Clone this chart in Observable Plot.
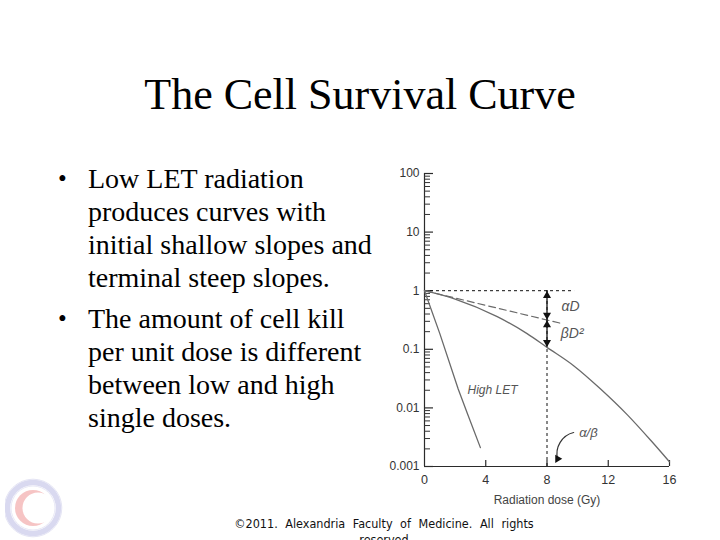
<!DOCTYPE html>
<html>
<head>
<meta charset="utf-8">
<script src="https://cdn.jsdelivr.net/npm/d3@7"></script>
<script src="https://cdn.jsdelivr.net/npm/@observablehq/plot@0.6"></script>
<style>
  html, body { margin: 0; padding: 0; background: #fff; }
  body { width: 720px; height: 540px; overflow: hidden; position: relative; }
  #title {
    position: absolute; left: 0; top: 73px; width: 720px; text-align: center;
    font-family: "Liberation Serif", "Times New Roman", serif; font-size: 44px; line-height: 1; color: #000;
  }
  .bullet {
    position: absolute; left: 58px; white-space: nowrap;
    font-family: "Liberation Serif", "Times New Roman", serif; font-size: 28px; line-height: 33px; color: #000;
  }
  .bullet .dot { position: absolute; left: 0; top: 0; font-size: 25px; }
  .bullet .lines { margin-left: 30px; }
  #chart { position: absolute; left: 380px; top: 160px; }
  #footer {
    position: absolute; left: 184px; width: 400px; top: 516px; text-align: center;
    font-family: "Liberation Sans Narrow", "DejaVu Sans Condensed", "Liberation Sans", sans-serif;
    font-size: 12.5px; line-height: 16px; word-spacing: 4px; letter-spacing: 0px; color: #111;
  }
  #logo { position: absolute; left: 5px; top: 478px; }
</style>
</head>
<body>
<div id="title">The Cell Survival Curve</div>

<div class="bullet" style="top:162px">
  <span class="dot">•</span>
  <div class="lines">Low LET radiation<br>produces curves with<br>initial shallow slopes and<br>terminal steep slopes.</div>
</div>
<div class="bullet" style="top:302px">
  <span class="dot">•</span>
  <div class="lines">The amount of cell kill<br>per unit dose is different<br>between low and high<br>single doses.</div>
</div>

<svg id="logo" width="58" height="62" viewBox="0 0 58 62">
  <circle cx="28" cy="30" r="25.5" fill="none" stroke="#d9d9f0" stroke-width="5.5"/>
  <circle cx="28" cy="30" r="28.8" fill="none" stroke="#e4e4f4" stroke-width="1"/>
  <circle cx="28" cy="30" r="22" fill="none" stroke="#e8e8f6" stroke-width="1"/>
  <circle cx="28" cy="30" r="18" fill="#f6c4c4"/>
  <circle cx="33" cy="30" r="15.5" fill="#fff"/>
</svg>

<div id="chart"></div>

<div id="footer">©2011. Alexandria Faculty of Medicine. All rights<br>reserved</div>

<script>
// Axis structure
const yTickValues = [0.001, 0.01, 0.1, 1, 10, 100];
const yTickLabels = ["0.001", "0.01", "0.1", "1", "10", "100"];
const xTickValues = [0, 4, 8, 12, 16];
const minorMultipliers = [2, 3, 4, 5, 6, 7, 8, 9];

// Low LET (linear-quadratic) survival curve: dose (Gy) and surviving fraction
const lowLetDose     = [0, 2, 4.75, 6.7, 8, 9.76, 11.5, 13.25, 14.77, 16];
const lowLetSurvival = [1, 0.72, 0.36, 0.185, 0.108, 0.052, 0.021, 0.0076, 0.0028, 0.0012];

// High LET survival curve
const highLetDose     = [0, 1, 2.2, 2.8, 3.65];
const highLetSurvival = [1, 0.185, 0.021, 0.008, 0.0021];

// Single-hit (alpha D) component, dashed
const alphaDose     = [0, 9];
const alphaSurvival = [1, 0.274];

// Reference dose where alpha D = beta D^2, and the survival values there
const markerDose = 8;
const alphaAtMarker = 0.316;
const survivalAtMarker = 0.108;
const unitLineEnd = 9.8;

// Annotations
const annotations = [
  {label: "αD",       x: 8.95, y: 0.53,   size: 14},
  {label: "βD²",      x: 8.9,  y: 0.185,  size: 14},
  {label: "High LET", x: 2.81, y: 0.0197, size: 12},
  {label: "α/β",      x: 10.1, y: 0.0038, size: 13}
];
const ratioArrow = {x1: 9.74, y1: 0.0038, x2: 8.69, y2: 0.00135};

const toRows = (xs, ys) => xs.map((x, i) => ({x, y: ys[i]}));
const lowLet = toRows(lowLetDose, lowLetSurvival);
const highLet = toRows(highLetDose, highLetSurvival);
const alphaLine = toRows(alphaDose, alphaSurvival);
const minorTicks = yTickValues.slice(0, -1).flatMap(d => minorMultipliers.map(m => m * d));

const W = 320, H = 350, mL = 44, mR = 31, mT = 13, mB = 44;
const frameW = W - mL - mR, frameH = H - mT - mB;
const ink = "#2b2b2b";
const curve = "#6a6a6a";

const plot = Plot.plot({
  width: W, height: H,
  marginLeft: mL, marginRight: mR, marginTop: mT, marginBottom: mB,
  x: {domain: [0, 16], axis: null},
  y: {type: "log", domain: [0.001, 100], axis: null},
  style: {fontFamily: "'Liberation Sans', Arial, sans-serif", fontSize: "12px", background: "transparent", overflow: "visible"},
  marks: [
    // axis lines
    Plot.ruleX([0], {y1: 0.001, y2: 100, stroke: ink, strokeWidth: 1.2}),
    Plot.ruleY([0.001], {x1: 0, x2: 16, stroke: ink, strokeWidth: 1.2}),
    // inward ticks
    Plot.tickY(yTickValues, {y: d => d, insetRight: frameW - 9, stroke: ink, strokeWidth: 1.2}),
    Plot.tickY(minorTicks, {y: d => d, insetRight: frameW - 6, stroke: "#333", strokeWidth: 1}),
    Plot.tickX(xTickValues.slice(1), {x: d => d, insetTop: frameH - 6, stroke: ink, strokeWidth: 1.2}),
    // tick labels
    Plot.text(yTickValues, {y: d => d, text: (d, i) => yTickLabels[i], frameAnchor: "left", dx: -5, textAnchor: "end", fill: "#333", fontSize: 12}),
    Plot.text(xTickValues, {x: d => d, text: d => String(d), frameAnchor: "bottom", dy: 17, fill: "#333", fontSize: 12.5}),
    Plot.text(["Radiation dose (Gy)"], {frameAnchor: "bottom", dy: 37, fill: "#444", fontSize: 12}),
    // reference dashed lines
    Plot.ruleY([1], {x1: 0, x2: unitLineEnd, stroke: "#111", strokeDasharray: "3,3", strokeWidth: 1}),
    Plot.ruleX([markerDose], {y1: 0.001, y2: 1, stroke: "#111", strokeDasharray: "3,3", strokeWidth: 1}),
    Plot.line(alphaLine, {x: "x", y: "y", stroke: curve, strokeDasharray: "7,4", strokeWidth: 1.2}),
    // survival curves
    Plot.line(lowLet, {x: "x", y: "y", curve: "monotone-x", stroke: curve, strokeWidth: 1.3}),
    Plot.line(highLet, {x: "x", y: "y", stroke: curve, strokeWidth: 1.3}),
    // alpha D and beta D^2 double arrows
    Plot.ruleX([markerDose], {y1: 1, y2: alphaAtMarker, stroke: "#111", strokeWidth: 1.3}),
    Plot.ruleX([markerDose], {y1: alphaAtMarker, y2: survivalAtMarker, stroke: "#111", strokeWidth: 1.3}),
    Plot.dot([1, alphaAtMarker], {x: markerDose, y: d => d, symbol: "triangle", r: 3, fill: "#111", stroke: "none", dy: 5}),
    Plot.dot([alphaAtMarker, survivalAtMarker], {x: markerDose, y: d => d, symbol: "triangle", r: 3, rotate: 180, fill: "#111", stroke: "none", dy: -5}),
    // alpha/beta pointer
    Plot.arrow([ratioArrow], {x1: "x1", y1: "y1", x2: "x2", y2: "y2", bend: -45, headLength: 0, stroke: "#333", strokeWidth: 1.2}),
    Plot.dot([ratioArrow], {x: "x2", y: "y2", symbol: "triangle", r: 3, rotate: 210, fill: "#111", stroke: "none"}),
    // labels
    Plot.text(annotations, {x: "x", y: "y", text: "label", fontSize: "size", textAnchor: "start", fontStyle: "italic", fill: "#555"})
  ]
});
document.getElementById("chart").appendChild(plot);
</script>
</body>
</html>
